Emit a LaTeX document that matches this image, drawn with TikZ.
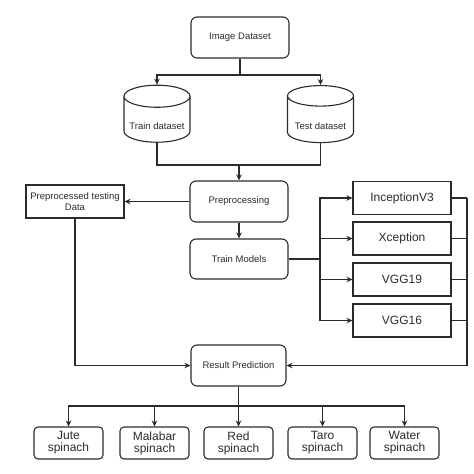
\documentclass[tikz,border=0pt]{standalone}
\usepackage{fontspec}
\setmainfont{Liberation Sans}
\usetikzlibrary{shapes.geometric,arrows.meta}
\definecolor{ink}{HTML}{2B2B2B}
\begin{document}
\begin{tikzpicture}[x=1pt,y=-1pt,
	line width=1.1pt, draw=ink, text=ink,
	box/.style={draw=ink, inner sep=0pt, align=center, font=\fontsize{9.5}{11}\selectfont},
	rbox/.style={box, rounded corners=6pt, minimum width=98pt, minimum height=41pt},
	mbox/.style={box, minimum width=98pt, minimum height=33pt, font=\fontsize{12}{14}\selectfont},
	sbox/.style={box, rounded corners=4pt, minimum width=69pt, minimum height=32pt, font=\fontsize{12}{12}\selectfont},
	db/.style={box, cylinder, shape border rotate=90, aspect=0.4, minimum width=66pt, minimum height=57pt},
	arr/.style={draw=ink, -{Stealth[length=6pt,width=5.5pt]}}]
	\useasboundingbox (0,0) rectangle (474,474);
	\node [rbox] (img) at (240,37.5) {Image Dataset};
	\node [db] (train) at (157,119.5) {\\[9pt]Train dataset};
	\node [db] (test) at (320.5,119.5) {\\[9pt]Test dataset};
	\node [rbox] (pre) at (239,201.5) {Preprocessing};
	\node [box, minimum width=98pt, minimum height=33pt] (ptd) at (75,201.5) {Preprocessed testing\\Data};
	\node [rbox, minimum height=40pt] (tm) at (239,259) {Train Models};
	\node [mbox] (inc) at (402,198) {InceptionV3};
	\node [mbox] (xce) at (402,238.5) {Xception};
	\node [mbox] (v19) at (402,279.5) {VGG19};
	\node [mbox] (v16) at (402,320.5) {VGG16};
	\node [rbox, minimum width=95pt] (res) at (238.5,365.5) {Result Prediction};
	\node [sbox] (jute) at (68.5,443) {Jute\\spinach};
	\node [sbox] (mal) at (154.5,443) {Malabar\\spinach};
	\node [sbox] (red) at (238.5,443) {Red\\spinach};
	\node [sbox] (taro) at (322.5,443) {Taro\\spinach};
	\node [sbox] (wat) at (404.5,443) {Water\\spinach};
	% junctions
	\coordinate (split) at (240,75);
	\coordinate (merge) at (239,165);
	\coordinate (fork) at (320,259);
	\coordinate (rbus) at (467,365.5);
	\coordinate (fan) at (238.5,406);
	\draw (img) -- (split);
	\draw[arr] (split) -| (train.north);
	\draw[arr] (split) -| (test.north);
	\draw (train.south) |- (merge) -| (test.south);
	\draw[arr] (merge) -- (pre);
	\draw[arr] (pre) -- (ptd);
	\draw[arr] (pre) -- (tm);
	\draw (tm) -- (fork);
	\foreach \m in {inc,xce,v19,v16}{
		\draw[arr] (fork) |- (\m.west);
		\draw (\m.east) -- (\m.east -| rbus);
	}
	\draw[arr] (inc.east -| rbus) |- (res.east);
	\draw[arr] (ptd.south) |- (res.west);
	\draw (res) -- (fan);
	\foreach \s in {jute,mal,red,taro,wat}
		\draw[arr] (fan) -| (\s.north);
\end{tikzpicture}
\end{document}
